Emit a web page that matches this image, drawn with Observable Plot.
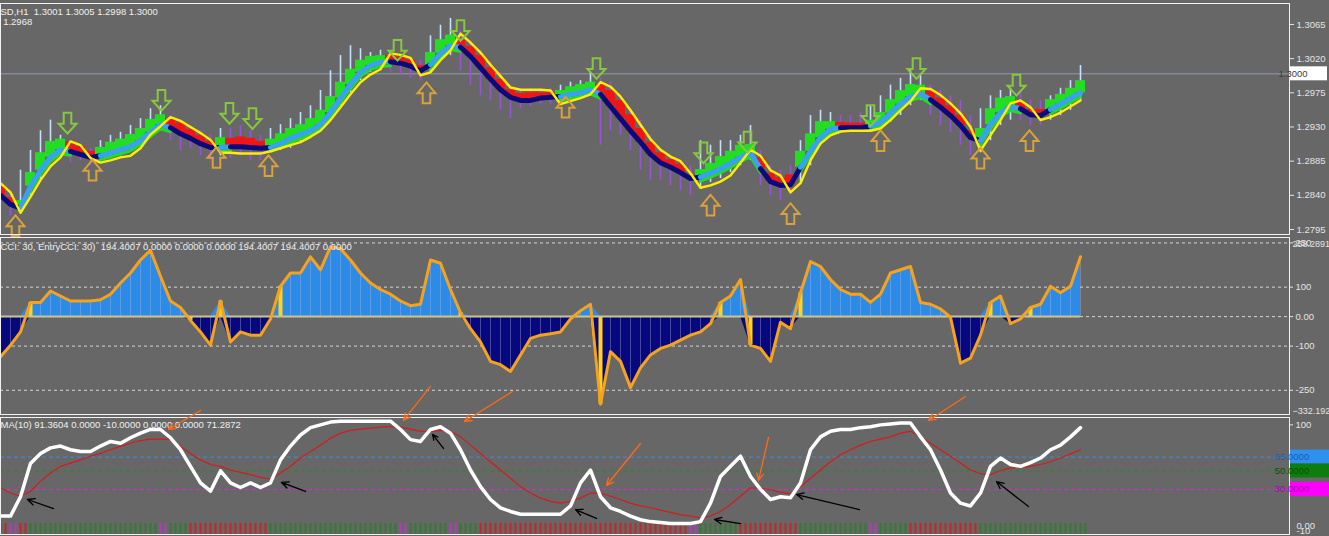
<!DOCTYPE html>
<html><head><meta charset="utf-8">
<script src="https://cdn.jsdelivr.net/npm/d3@7"></script>
<script src="https://cdn.jsdelivr.net/npm/@observablehq/plot@0.6"></script>
<style>
body{margin:0;background:#676767;}
#chart{position:relative;width:1329px;height:536px;overflow:hidden;background:#676767;}
#chart svg{position:absolute;left:0;}
</style></head><body><div id="chart"></div>
<script>
// ---------- price panel data (one value per sampled bar) ----------
const ma = [1.2840,1.2828,1.2823,1.2852,1.2873,1.2890,1.2900,1.2898,1.2894,1.2890,
 1.2892,1.2896,1.2900,1.2904,1.2912,1.2923,1.2933,1.2929,1.2921,1.2915,
 1.2908,1.2903,1.2903,1.2904,1.2904,1.2903,1.2902,1.2903,1.2908,1.2915,
 1.2920,1.2925,1.2933,1.2949,1.2968,1.2986,1.3002,1.3011,1.3015,1.3016,
 1.3014,1.3010,1.3004,1.3012,1.3027,1.3037,1.3035,1.3023,1.3008,1.2993,
 1.2979,1.2969,1.2965,1.2965,1.2968,1.2969,1.2970,1.2973,1.2975,1.2979,
 1.2973,1.2957,1.2941,1.2925,1.2910,1.2894,1.2883,1.2877,1.2870,1.2862,
 1.2864,1.2869,1.2875,1.2882,1.2890,1.2896,1.2875,1.2858,1.2853,1.2854,
 1.2877,1.2898,1.2916,1.2927,1.2929,1.2929,1.2929,1.2931,1.2936,1.2948,
 1.2960,1.2970,1.2974,1.2966,1.2956,1.2945,1.2932,1.2916,1.2912,1.2933,
 1.2949,1.2957,1.2954,1.2946,1.2945,1.2953,1.2960,1.2968,1.2975];
const upper = [1.2853,1.2837,1.2833,1.2870,1.2896,1.2911,1.2914,1.2910,1.2904,1.2898,
 1.2903,1.2910,1.2914,1.2920,1.2928,1.2940,1.2946,1.2940,1.2935,1.2927,
 1.2919,1.2911,1.2916,1.2915,1.2917,1.2915,1.2911,1.2914,1.2921,1.2928,
 1.2933,1.2941,1.2952,1.2970,1.2989,1.3006,1.3018,1.3023,1.3024,1.3024,
 1.3022,1.3018,1.3011,1.3028,1.3045,1.3051,1.3044,1.3036,1.3024,1.3008,
 1.2993,1.2979,1.2974,1.2975,1.2975,1.2975,1.2978,1.2983,1.2986,1.2989,
 1.2986,1.2978,1.2965,1.2946,1.2928,1.2910,1.2896,1.2887,1.2881,1.2866,
 1.2874,1.2882,1.2891,1.2898,1.2906,1.2907,1.2889,1.2869,1.2863,1.2867,
 1.2898,1.2921,1.2937,1.2937,1.2936,1.2935,1.2935,1.2939,1.2949,1.2966,
 1.2978,1.2986,1.2985,1.2977,1.2968,1.2958,1.2945,1.2925,1.2928,1.2954,
 1.2968,1.2970,1.2962,1.2953,1.2953,1.2966,1.2973,1.2981,1.2991];
const trail = [1.2856,1.2844,1.2817,1.2838,1.2860,1.2878,1.2890,1.2911,1.2906,1.2889,
 1.2883,1.2886,1.2890,1.2892,1.2902,1.2920,1.2931,1.2943,1.2938,1.2930,
 1.2922,1.2913,1.2896,1.2896,1.2895,1.2895,1.2895,1.2898,1.2902,1.2906,
 1.2910,1.2917,1.2925,1.2939,1.2956,1.2973,1.2989,1.2999,1.3006,1.3027,
 1.3025,1.3021,1.2998,1.3002,1.3018,1.3031,1.3053,1.3041,1.3028,1.3012,
 1.2997,1.2982,1.2979,1.2979,1.2979,1.2978,1.2960,1.2964,1.2968,1.2973,
 1.2989,1.2983,1.2970,1.2952,1.2933,1.2914,1.2900,1.2891,1.2885,1.2869,
 1.2850,1.2853,1.2858,1.2866,1.2883,1.2900,1.2892,1.2873,1.2866,1.2844,
 1.2856,1.2886,1.2908,1.2919,1.2924,1.2925,1.2925,1.2925,1.2928,1.2939,
 1.2952,1.2964,1.2981,1.2980,1.2972,1.2961,1.2948,1.2930,1.2899,1.2919,
 1.2939,1.2961,1.2965,1.2956,1.2939,1.2943,1.2949,1.2957,1.2965];
const hi = [1.2860,1.2846,1.2873,1.2899,1.2925,1.2939,1.2919,1.2912,1.2906,1.2902,
 1.2912,1.2919,1.2923,1.2932,1.2941,1.2954,1.2958,1.2945,1.2939,1.2932,
 1.2925,1.2919,1.2928,1.2928,1.2932,1.2925,1.2919,1.2928,1.2933,1.2941,
 1.2949,1.2958,1.2978,1.3004,1.3024,1.3037,1.3033,1.3028,1.3031,1.3024,
 1.3023,1.3020,1.3018,1.3050,1.3064,1.3073,1.3057,1.3044,1.3031,1.3015,
 1.3002,1.2985,1.2981,1.2981,1.2981,1.2981,1.2985,1.2989,1.2991,1.3002,
 1.2994,1.2989,1.2971,1.2954,1.2939,1.2919,1.2902,1.2892,1.2886,1.2879,
 1.2912,1.2906,1.2912,1.2912,1.2919,1.2932,1.2899,1.2879,1.2873,1.2879,
 1.2912,1.2945,1.2952,1.2949,1.2945,1.2945,1.2949,1.2958,1.2971,1.2985,
 1.2994,1.3004,1.2998,1.2985,1.2978,1.2971,1.2965,1.2945,1.2954,1.2971,
 1.2978,1.2981,1.2975,1.2965,1.2965,1.2971,1.2981,1.2991,1.3011];
const lo = [1.2827,1.2813,1.2817,1.2840,1.2860,1.2883,1.2892,1.2883,1.2886,1.2879,
 1.2886,1.2890,1.2892,1.2899,1.2906,1.2915,1.2925,1.2912,1.2899,1.2902,
 1.2892,1.2886,1.2892,1.2889,1.2892,1.2886,1.2886,1.2896,1.2899,1.2902,
 1.2908,1.2915,1.2925,1.2941,1.2958,1.2975,1.2991,1.3002,1.3004,1.3002,
 1.2998,1.2994,1.2991,1.3002,1.3018,1.3024,1.3004,1.2985,1.2971,1.2965,
 1.2952,1.2941,1.2954,1.2957,1.2960,1.2960,1.2962,1.2965,1.2969,1.2971,
 1.2906,1.2925,1.2919,1.2899,1.2873,1.2860,1.2860,1.2853,1.2846,1.2840,
 1.2849,1.2857,1.2862,1.2870,1.2879,1.2886,1.2853,1.2840,1.2833,1.2840,
 1.2857,1.2879,1.2906,1.2919,1.2923,1.2923,1.2923,1.2923,1.2925,1.2936,
 1.2945,1.2958,1.2965,1.2945,1.2932,1.2923,1.2906,1.2892,1.2896,1.2912,
 1.2932,1.2939,1.2939,1.2932,1.2932,1.2939,1.2945,1.2952,1.2965];
const trend = ("dduuuuuddd"+"uuuuuuu"+"ddddd"+"u"+"dddd"+"uuuuuuuuuuuu"+"dddd"+"uuu"+
  "dddddddddd"+"uuuu"+"dddddddddd"+"uuuuuu"+"dddd"+"uuuu"+"ddd"+"uuuuuu"+"ddddd"+"uuuu"+"ddd"+"uuuu").split("");
const sellArrowBar = [6.7,16.1,22.9,25.2,39.7,46.0,59.6,70.3,74.7,87.0,91.6,101.6];
const sellArrowPrice = [1.2935,1.2965,1.2948,1.2941,1.3031,1.3057,1.3007,1.2896,1.2910,1.2945,1.3007,1.2985];
const buyArrowBar = [1.5,9.2,21.6,26.8,42.6,56.5,71.0,79.0,88.0,98.0,102.9];
const buyArrowPrice = [1.2800,1.2873,1.2890,1.2879,1.2975,1.2956,1.2827,1.2816,1.2912,1.2889,1.2912];
const priceTicks = [1.2795,1.2840,1.2885,1.2930,1.2975,1.3020,1.3065];
const priceDomain = [1.27884, 1.30926];
const lastPrice = 1.3000;
const priceHeader = "SD,H1  1.3001 1.3005 1.2998 1.3000\n 1.2968";

// ---------- CCI panel ----------
const cci = [-136,-97,-52,48,48,87,70,53,53,53,
 57,76,114,148,192,225,137,53,31,-13,
 -52,-97,53,-86,-52,-63,-63,-8,103,148,
 148,203,159,237,230,192,148,114,92,76,
 53,37,42,192,181,92,14,-41,-86,-152,
 -163,-186,-130,-74,-63,-58,-52,-8,20,42,
 -297,-119,-152,-241,-174,-130,-108,-97,-80,-63,
 -52,-24,48,70,126,-97,-108,-152,-19,-41,
 81,187,170,126,92,76,76,48,76,148,
 159,170,48,42,26,-2,-158,-141,-63,48,
 70,-24,-8,31,42,103,81,103,203];
const cciEntryBars = [3,19,22,28,46,60,72,75,80,95,99,103];
const cciLevels = [250,100,0,-100,-250];
const cciDomain = [-332.192, 258.2891];
const cciHeader = "CCI: 30, EntryCCI: 30)  194.4007 0.0000 0.0000 0.0000 194.4007 194.4007 0.0000";

// ---------- oscillator panel ----------
const oscWhite = [1,1,22,58,69,75,77,73,71,71,
 77,82,80,86,91,95,95,86,73,55,
 37,28,50,37,32,37,32,37,62,77,
 89,97,100,103,104,104,104,104,104,104,
 95,84,82,95,98,91,73,51,33,19,
 10,6,3,3,3,3,3,12,37,51,
 22,10,6,1,-3,-5,-6,-7,-7,-7,
 -5,15,44,55,66,44,30,19,22,21,
 37,73,87,93,95,95,97,98,100,101,
 102,102,87,73,51,26,15,12,26,55,
 64,57,55,59,64,73,78,87,97];
const oscRed = [31.5,26,22.5,28,38.7,47.7,55,58.5,62,66,
 69,73,76.6,80,83,84.5,84.5,84,76.6,69,
 62,57,55,51,48.5,46,43,41,47.7,55,
 64,71,78,85.6,91,94,95.4,96.5,97.5,98.3,
 97.5,95.4,93,93,94,93,87,78,69,60,
 51,42,33,26,20.5,17,15,17,20.5,26,
 26,22.5,19,15,12,10,7.5,5,2.6,1,
 -1,1,6,13.5,22.5,31.5,31.5,29.6,27,25,
 33,42,51,60,67.5,73,78,82,84.5,87,
 91,93,87,80,73,66,58.5,51,47,46,
 50.5,53,54,55,57,60,64,68.5,73];
const oscState = ("RMR"+"GGGGGGGGGGGGG"+"M"+"GG"+"RRRRRRRR"+"GGGGGGGGGGGGG"+"M"+"GGGG"+"M"+"GG"+
  "RRRRRRRRRRRRRRRRRRRRR"+"M"+"GGGG"+"RRRRRR"+"GGGGGGG"+"M"+"GGG"+"RRRRRRR"+"GGGGGGGGGGG").split("");
const oscLevels = [65, 50, 30];
const oscLevelLabels = ["65.0000","50.0000","30.0000"];
const oscDomain = [-19, 108];
const oscHeader = "MA(10) 91.3604 0.0000 -10.0000 0.0000 0.0000 71.2872";
// hand-drawn annotation arrows (bar, value) tail -> head, in oscillator units
const orangeTailBar = [20.0,43.0,51.2,64.0,76.8,96.5];
const orangeTailVal = [115.6,141.7,136.3,79.8,86.3,130.8];
const orangeHeadBar = [16.8,40.3,46.4,60.6,75.8,92.8];
const orangeHeadVal = [95.0,104.8,103.7,34.2,39.6,104.8];
const blackTailBar = [5.3,30.5,44.3,59.6,74.0,85.9,102.8];
const blackTailVal = [9.2,27.7,74.4,-1.6,-7.1,8.1,11.4];
const blackHeadBar = [2.7,28.1,43.2,57.5,71.4,79.6,99.6];
const blackHeadVal = [19.0,37.5,89.6,8.1,-2.7,24.4,38.5];

// ---------- build ----------
const W = 1329, FONT = "'Liberation Sans', Arial, sans-serif";
const N = ma.length;
const bars = d3.range(N).map(i => ({i, ma: ma[i], upper: upper[i], trail: trail[i], hi: hi[i], lo: lo[i], trend: trend[i]}));
let run = 0;
bars.forEach((d, k) => { if (k > 0 && d.trend !== bars[k-1].trend) run++; d.run = run; });
const maSeg = [];
bars.forEach((d, k) => {
  maSeg.push({i: d.i, v: d.ma, run: d.run, trend: d.trend});
  const n = bars[k+1];
  if (n && n.run !== d.run) maSeg.push({i: n.i, v: n.ma, run: d.run, trend: d.trend});
});
const sellArrows = sellArrowBar.map((b, k) => ({i: b, p: sellArrowPrice[k]}));
const buyArrows = buyArrowBar.map((b, k) => ({i: b, p: buyArrowPrice[k]}));
const cciData = cci.map((v, i) => ({i, v}));
const osc = oscWhite.map((w, i) => ({i, w, r: oscRed[i], s: oscState[i]}));
const orangeArrows = orangeTailBar.map((b, k) => ({x1: b, y1: orangeTailVal[k], x2: orangeHeadBar[k], y2: orangeHeadVal[k]}));
const blackArrows = blackTailBar.map((b, k) => ({x1: b, y1: blackTailVal[k], x2: blackHeadBar[k], y2: blackHeadVal[k]}));
const stripColor = {R: "#c02828", G: "#2f7d2f", M: "#b23cb8"};

// hollow block-arrow symbols (d3 symbol-type objects)
function blockArrow(dir) {
  return {draw(ctx, size) {
    const r = Math.sqrt(size / Math.PI), w = 0.42 * r, h = 1.15 * r, m = 0.05 * r * dir;
    const p = [[-w, -h], [w, -h], [w, m], [r, m], [0, h], [-r, m], [-w, m]];
    p.forEach(([x, y], k) => { const yy = y * dir; k ? ctx.lineTo(x, yy) : ctx.moveTo(x, yy); });
    ctx.closePath();
  }};
}
const arrowDown = blockArrow(1), arrowUp = blockArrow(-1);

const common = {
  width: W, marginLeft: 0, marginRight: 40,
  x: {domain: [0, 128.9], axis: null},
  style: {background: "transparent", color: "#e4e4e4", fontFamily: FONT, fontSize: "9.5px", overflow: "visible"}
};
const frameColor = "#f2f2f2";

const pricePlot = Plot.plot({
  ...common, height: 236, marginTop: 3, marginBottom: 2,
  y: {domain: priceDomain, ticks: priceTicks, tickFormat: d3.format(".4f"), axis: "right", tickSize: 4, tickPadding: 3, label: null},
  marks: [
    Plot.ruleY([lastPrice], {stroke: "#8f9cae", strokeWidth: 1}),
    Plot.ruleX(bars, {x: "i", y1: "lo", y2: "hi", stroke: d => d.trend === "u" ? "#c4e2ff" : "#9a52d6", strokeWidth: 1.6}),
    Plot.rect(bars, {x1: d => d.i - 0.5, x2: d => d.i + 0.5, y1: "ma", y2: "upper", fill: d => d.trend === "u" ? "#22dd22" : "#f01616"}),
    Plot.line(maSeg.filter(d => d.trend === "u"), {x: "i", y: "v", z: "run", stroke: "#22dd22", strokeWidth: 3, dy: 4}),
    Plot.line(maSeg, {x: "i", y: "v", z: "run", stroke: d => d.trend === "u" ? "#39a0f2" : "#0a0a7a", strokeWidth: 5}),
    Plot.line(bars, {x: "i", y: "trail", stroke: "#ffee00", strokeWidth: 2.4}),
    Plot.dot(sellArrows, {x: "i", y: "p", symbol: arrowDown, r: 9, fill: "none", stroke: "#86c83e", strokeWidth: 2}),
    Plot.dot(buyArrows, {x: "i", y: "p", symbol: arrowUp, r: 9, fill: "none", stroke: "#d9a23a", strokeWidth: 2}),
    Plot.text([priceHeader], {text: d => d, frameAnchor: "top-left", dx: 0, dy: 4, lineAnchor: "top", fill: "#f0f0f0", fontSize: 9.5, lineHeight: 1.1}),
    Plot.frame({stroke: frameColor})
  ]
});

const cciPlot = Plot.plot({
  ...common, height: 179, marginTop: 4, marginBottom: 1,
  y: {domain: cciDomain, ticks: cciLevels, tickFormat: v => v === 0 ? "0.00" : String(v), axis: "right", tickSize: 3, tickPadding: 3, label: null},
  marks: [
    Plot.ruleY(cciLevels, {stroke: "#d6d6d6", strokeDasharray: "3,3", strokeWidth: 1}),
    Plot.areaY(cciData, {x: "i", y: d => Math.max(0, d.v), fill: "#2d8be8"}),
    Plot.areaY(cciData, {x: "i", y: d => Math.min(0, d.v), fill: "#08087e"}),
    Plot.ruleX(cciData, {x: "i", y1: 0, y2: "v", stroke: "#b0b8d8", strokeOpacity: 0.45, strokeWidth: 0.8}),
    Plot.ruleX(cciData.filter(d => cciEntryBars.includes(d.i)), {x: "i", y1: 0, y2: "v", stroke: "#ffd21c", strokeWidth: 4}),
    Plot.ruleY([0], {x1: d3.min(cciData, d => d.i), x2: d3.max(cciData, d => d.i), stroke: "#cbc48f", strokeWidth: 2}),
    Plot.line(cciData, {x: "i", y: "v", stroke: "#f6a21c", strokeWidth: 3}),
    Plot.text([cciHeader], {text: d => d, frameAnchor: "top-left", dx: 0, dy: 3, lineAnchor: "top", fill: "#f0f0f0", fontSize: 9.5}),
    Plot.text([d3.format(".4f")(cciDomain[1])], {text: d => d, frameAnchor: "top-right", dx: 3, dy: 0, textAnchor: "start", lineAnchor: "top", fill: "#e4e4e4", fontSize: 9}),
    Plot.text([d3.format(".3f")(cciDomain[0])], {text: d => d, frameAnchor: "bottom-right", dx: 3, dy: -1, textAnchor: "start", lineAnchor: "bottom", fill: "#e4e4e4", fontSize: 9}),
    Plot.frame({stroke: frameColor, insetTop: -3})
  ]
});

const oscPlot = Plot.plot({
  ...common, height: 121, marginTop: 2, marginBottom: 2,
  y: {domain: oscDomain, ticks: [100], tickFormat: d => String(d), axis: "right", tickSize: 3, tickPadding: 3, label: null},
  marks: [
    Plot.ruleY(oscLevels, {y: d => d, stroke: d => ({65: "#3c8fe0", 50: "#2a8a2a", 30: "#cc33cc"})[d], strokeDasharray: "4,3", strokeWidth: 1}),
    Plot.ruleX(osc, {x: "i", stroke: d => stripColor[d.s], strokeWidth: 2, insetTop: 106}),
    Plot.ruleX(osc, {x: "i", stroke: d => stripColor[d.s], strokeWidth: 2, insetTop: 106, dx: 5}),
    Plot.line(osc, {x: "i", y: "r", stroke: "#d41c1c", strokeWidth: 1.2}),
    Plot.line(osc, {x: "i", y: "w", stroke: "#ffffff", strokeWidth: 3.5}),
    Plot.text([oscHeader], {text: d => d, frameAnchor: "top-left", dx: 0, dy: 4, lineAnchor: "top", fill: "#f0f0f0", fontSize: 9.5}),
    Plot.text(["0.00"], {text: d => d, frameAnchor: "bottom-right", dx: 7, dy: -6, textAnchor: "start", lineAnchor: "bottom", fill: "#e4e4e4"}),
    Plot.text(["-10"], {text: d => d, frameAnchor: "bottom-right", dx: 7, dy: -1, textAnchor: "start", lineAnchor: "bottom", fill: "#e4e4e4"}),
    Plot.frame({stroke: frameColor}),
    Plot.arrow(orangeArrows, {x1: "x1", y1: "y1", x2: "x2", y2: "y2", stroke: "#ff6a14", strokeWidth: 1.3, headLength: 9, headAngle: 50}),
    Plot.arrow(blackArrows, {x1: "x1", y1: "y1", x2: "x2", y2: "y2", stroke: "#000000", strokeWidth: 1.3, headLength: 9, headAngle: 50})
  ]
});

const chart = document.getElementById("chart");
pricePlot.style.top = "0px"; cciPlot.style.top = "236px"; oscPlot.style.top = "415px";
chart.append(pricePlot, cciPlot, oscPlot);

// price tag for the last price
{
  const y = pricePlot.scale("y").apply(lastPrice), x0 = W - 40 + 1;
  const g = d3.select(pricePlot).append("g");
  g.append("rect").attr("x", x0).attr("y", y - 7).attr("width", 37).attr("height", 14).attr("fill", "#ffffff");
  g.append("text").attr("x", x0 + 3).attr("y", y).attr("dy", "0.35em").attr("fill", "#3c3c3c")
    .attr("font-family", FONT).attr("font-size", 9.5).text(d3.format(".4f")(lastPrice));
}
// level tags for the oscillator
{
  const ys = oscPlot.scale("y");
  const box = {65: "#2f90f0", 50: "#0d7d0d", 30: "#ff00ff"};
  const ink = {65: "#1c5fae", 50: "#0a4f0a", 30: "#b000b0"};
  const g = d3.select(oscPlot).append("g");
  oscLevels.forEach((v, k) => {
    const y = ys.apply(v), x0 = W - 40 + 1;
    g.append("rect").attr("x", x0).attr("y", y - 7).attr("width", 39).attr("height", 14).attr("fill", box[v]);
    g.append("text").attr("x", x0 + 2).attr("y", y).attr("dy", "0.35em").attr("fill", ink[v])
      .attr("font-family", FONT).attr("font-size", 9.5).text(oscLevelLabels[k]);
  });
}
</script></body></html>
